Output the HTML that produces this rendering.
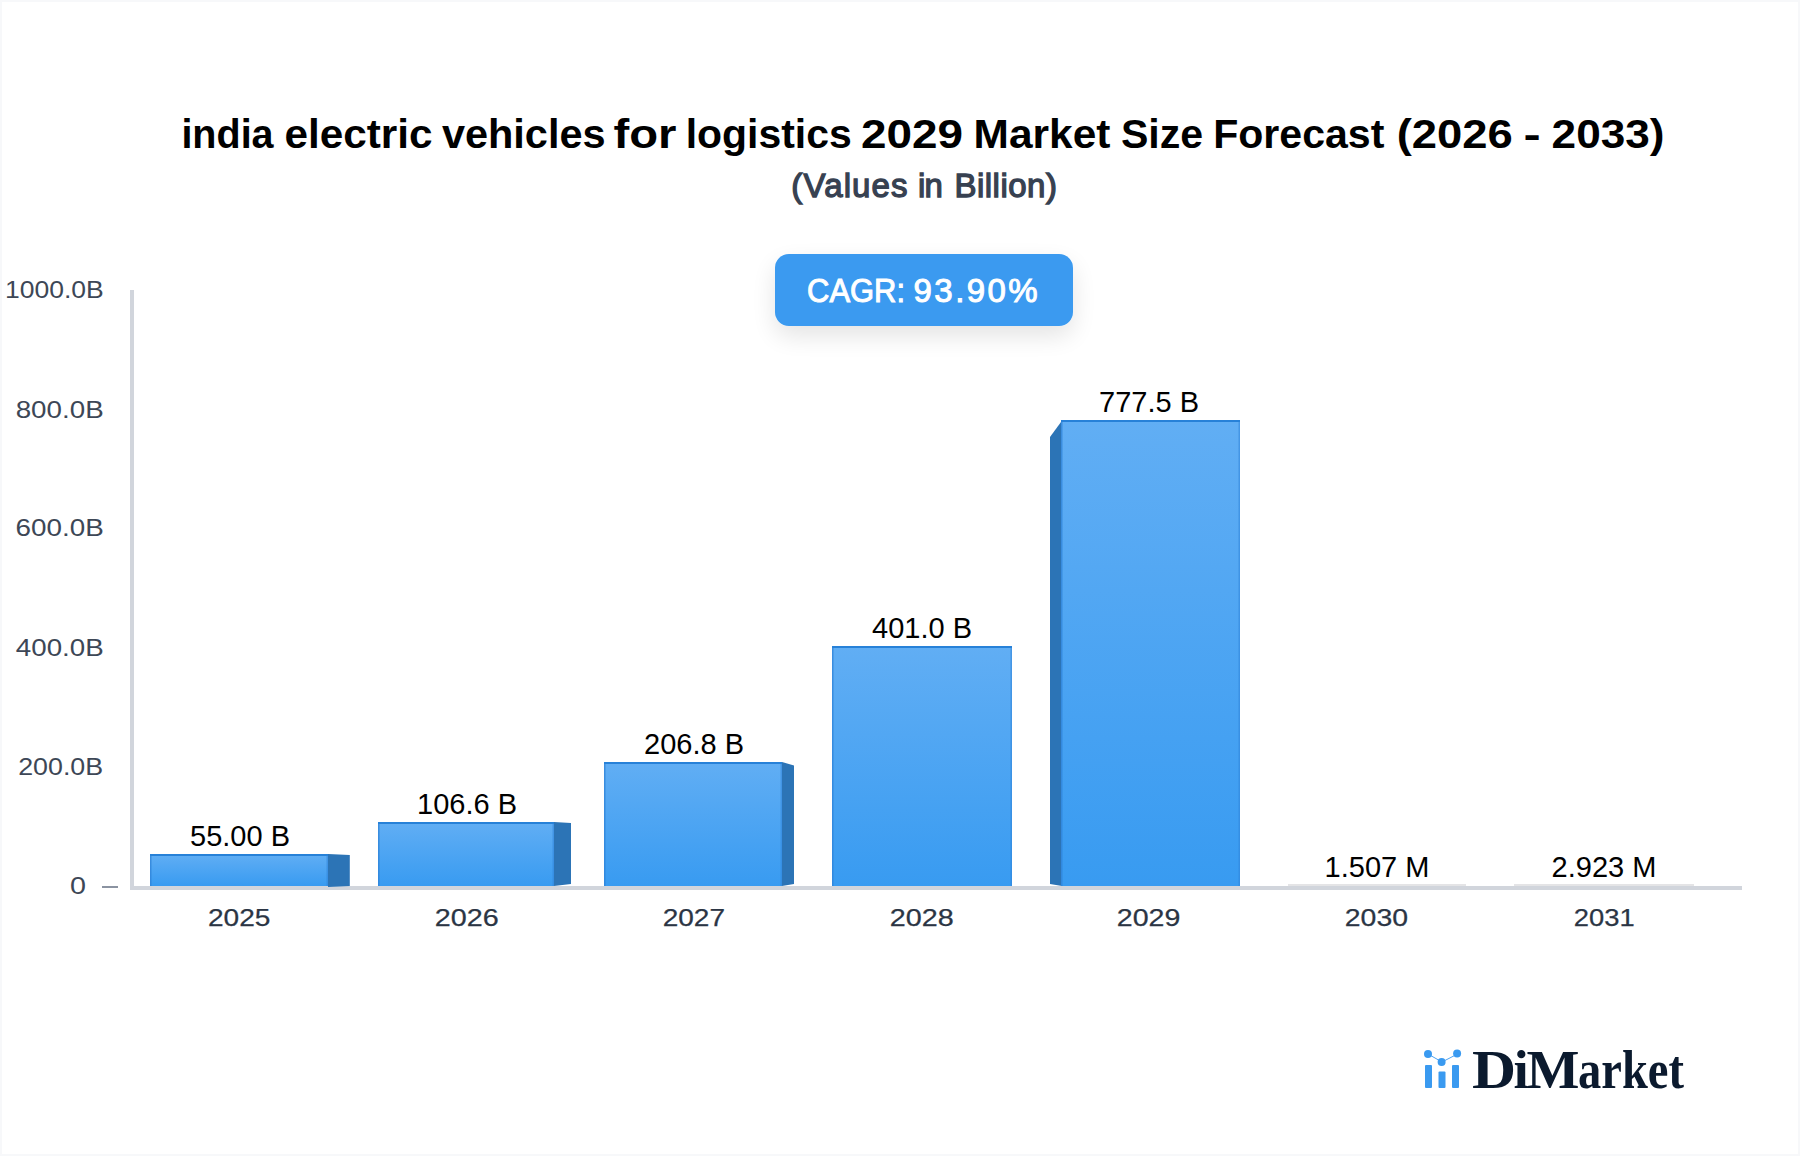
<!DOCTYPE html>
<html>
<head>
<meta charset="utf-8">
<style>
html,body{margin:0;padding:0;width:1800px;height:1156px;overflow:hidden;background:#f7f8fa;}
.card{position:absolute;left:2px;top:2px;width:1795.5px;height:1152px;background:#ffffff;}
svg{position:absolute;left:0;top:0;}
text{font-family:"Liberation Sans",sans-serif;}
</style>
</head>
<body>
<div class="card"></div>
<svg width="1800" height="1156" viewBox="0 0 1800 1156">
<defs>
  <linearGradient id="gf" x1="0" y1="0" x2="0" y2="1">
    <stop offset="0" stop-color="#61aef4"/>
    <stop offset="1" stop-color="#389bf1"/>
  </linearGradient>
  <filter id="sh" x="-30%" y="-50%" width="160%" height="220%">
    <feGaussianBlur in="SourceAlpha" stdDeviation="12"/>
    <feOffset dx="0" dy="10" result="b"/>
    <feComponentTransfer><feFuncA type="linear" slope="0.11"/></feComponentTransfer>
    <feMerge><feMergeNode/><feMergeNode in="SourceGraphic"/></feMerge>
  </filter>
</defs>

<!-- Title -->
<text x="181.4" y="148" font-size="40" font-weight="bold" fill="#000" textLength="92.2" lengthAdjust="spacingAndGlyphs" >india</text>
<text x="284.4" y="148" font-size="40" font-weight="bold" fill="#000" textLength="148.2" lengthAdjust="spacingAndGlyphs" >electric</text>
<text x="441.9" y="148" font-size="40" font-weight="bold" fill="#000" textLength="163.7" lengthAdjust="spacingAndGlyphs" >vehicles</text>
<text x="613.4" y="148" font-size="40" font-weight="bold" fill="#000" textLength="63.0" lengthAdjust="spacingAndGlyphs" >for</text>
<text x="685.7" y="148" font-size="40" font-weight="bold" fill="#000" textLength="166.0" lengthAdjust="spacingAndGlyphs" >logistics</text>
<text x="860.9" y="148" font-size="40" font-weight="bold" fill="#000" textLength="102.0" lengthAdjust="spacingAndGlyphs" >2029</text>
<text x="973.6" y="148" font-size="40" font-weight="bold" fill="#000" textLength="136.8" lengthAdjust="spacingAndGlyphs" >Market</text>
<text x="1120.9" y="148" font-size="40" font-weight="bold" fill="#000" textLength="82.2" lengthAdjust="spacingAndGlyphs" >Size</text>
<text x="1213.2" y="148" font-size="40" font-weight="bold" fill="#000" textLength="171.2" lengthAdjust="spacingAndGlyphs" >Forecast</text>
<text x="1396.7" y="148" font-size="40" font-weight="bold" fill="#000" textLength="116.1" lengthAdjust="spacingAndGlyphs" >(2026</text>
<text x="1523.6" y="148" font-size="40" font-weight="bold" fill="#000" textLength="17.2" lengthAdjust="spacingAndGlyphs" >-</text>
<text x="1551.6" y="148" font-size="40" font-weight="bold" fill="#000" textLength="112.9" lengthAdjust="spacingAndGlyphs" >2033)</text>
<text x="791.3" y="197.2" font-size="33" font-weight="normal" fill="#374151" textLength="116.3" lengthAdjust="spacing" stroke="#374151" stroke-width="1.3">(Values</text>
<text x="918.0" y="197.2" font-size="33" font-weight="normal" fill="#374151" textLength="24.9" lengthAdjust="spacing" stroke="#374151" stroke-width="1.3">in</text>
<text x="954.5" y="197.2" font-size="33" font-weight="normal" fill="#374151" textLength="102.4" lengthAdjust="spacing" stroke="#374151" stroke-width="1.3">Billion)</text>

<!-- Axes -->
<rect x="130" y="290" width="4" height="600" fill="#d1d5dc"/>
<rect x="130" y="886" width="1612" height="4" fill="#d1d5dc"/>
<rect x="102" y="886" width="16" height="2" fill="#8b93a1"/>

<!-- Y labels -->
<g font-size="24" fill="#3d4756">
<text x="4.9" y="297.5" textLength="98.8" lengthAdjust="spacingAndGlyphs">1000.0B</text>
<text x="15.7" y="417.5" textLength="88.0" lengthAdjust="spacingAndGlyphs">800.0B</text>
<text x="15.5" y="535.8" textLength="88.2" lengthAdjust="spacingAndGlyphs">600.0B</text>
<text x="15.8" y="655.5" textLength="87.9" lengthAdjust="spacingAndGlyphs">400.0B</text>
<text x="18.2" y="774.5" textLength="85.0" lengthAdjust="spacingAndGlyphs">200.0B</text>
<text x="70" y="893.5" textLength="16" lengthAdjust="spacingAndGlyphs">0</text>
</g>

<!-- Bars -->
<rect x="150" y="854" width="178" height="32" fill="url(#gf)"/>
<rect x="150" y="854" width="1.5" height="32" fill="#2f83d8" fill-opacity="0.75"/>
<rect x="326.5" y="854" width="1.5" height="32" fill="#2f83d8" fill-opacity="0.55"/>
<polygon points="328,854 349.8,855 349.8,886 328,887" fill="#2c74b6"/>
<rect x="150" y="854" width="178" height="2" fill="#2781d8"/>
<rect x="378" y="822" width="176" height="64" fill="url(#gf)"/>
<rect x="378" y="822" width="1.5" height="64" fill="#2f83d8" fill-opacity="0.75"/>
<rect x="552.5" y="822" width="1.5" height="64" fill="#2f83d8" fill-opacity="0.55"/>
<polygon points="554,822 571,823 571,884 554,886" fill="#2c74b6"/>
<rect x="378" y="822" width="176" height="2" fill="#2781d8"/>
<rect x="604" y="762" width="178" height="124" fill="url(#gf)"/>
<rect x="604" y="762" width="1.5" height="124" fill="#2f83d8" fill-opacity="0.75"/>
<rect x="780.5" y="762" width="1.5" height="124" fill="#2f83d8" fill-opacity="0.55"/>
<polygon points="782,762 794,765.4 794,884 782,886" fill="#2c74b6"/>
<rect x="604" y="762" width="178" height="2" fill="#2781d8"/>
<rect x="832" y="646" width="180" height="240" fill="url(#gf)"/>
<rect x="832" y="646" width="1.5" height="240" fill="#2f83d8" fill-opacity="0.75"/>
<rect x="1010.5" y="646" width="1.5" height="240" fill="#2f83d8" fill-opacity="0.55"/>
<rect x="832" y="646" width="180" height="2" fill="#2781d8"/>
<polygon points="1061,422 1050,437 1050,884 1062,886" fill="#2c74b6"/>
<rect x="1061" y="420" width="179" height="466" fill="url(#gf)"/>
<rect x="1061" y="420" width="1.5" height="466" fill="#2f83d8" fill-opacity="0.75"/>
<rect x="1238.5" y="420" width="1.5" height="466" fill="#2f83d8" fill-opacity="0.55"/>
<rect x="1061" y="420" width="179" height="2" fill="#2781d8"/>
<rect x="1288" y="884" width="178" height="2" fill="#e4e4e6"/>
<rect x="1514" y="884" width="180" height="2" fill="#e4e4e6"/>
<!-- Value labels -->
<g font-size="29" fill="#000" text-anchor="middle">
  <text x="240" y="846">55.00 B</text>
  <text x="467" y="814">106.6 B</text>
  <text x="694" y="754">206.8 B</text>
  <text x="922" y="638">401.0 B</text>
  <text x="1149" y="412">777.5 B</text>
  <text x="1377" y="877">1.507 M</text>
  <text x="1604" y="877">2.923 M</text>
</g>

<!-- X labels -->
<g font-size="24" fill="#2b3544" stroke="#2b3544" stroke-width="0.25">
<text x="208.0" y="925.5" textLength="62.4" lengthAdjust="spacingAndGlyphs">2025</text>
<text x="434.8" y="925.5" textLength="63.9" lengthAdjust="spacingAndGlyphs">2026</text>
<text x="662.7" y="925.5" textLength="62.3" lengthAdjust="spacingAndGlyphs">2027</text>
<text x="889.8" y="925.5" textLength="63.9" lengthAdjust="spacingAndGlyphs">2028</text>
<text x="1116.8" y="925.5" textLength="63.5" lengthAdjust="spacingAndGlyphs">2029</text>
<text x="1344.8" y="925.5" textLength="63.2" lengthAdjust="spacingAndGlyphs">2030</text>
<text x="1573.8" y="925.5" textLength="60.8" lengthAdjust="spacingAndGlyphs">2031</text>
</g>

<!-- CAGR badge -->
<g filter="url(#sh)">
  <rect x="775" y="254" width="298" height="72" rx="14" ry="14" fill="#3a9af0"/>
</g>
<text x="807.1" y="302" font-size="33" font-weight="normal" fill="#ffffff" textLength="97.9" lengthAdjust="spacingAndGlyphs" stroke="#ffffff" stroke-width="1.0">CAGR:</text>
<text x="913.6" y="302" font-size="33" font-weight="normal" fill="#ffffff" textLength="124.0" lengthAdjust="spacing" stroke="#ffffff" stroke-width="1.0">93.90%</text>

<!-- Logo -->
<g>
  <line x1="1428" y1="1054" x2="1442" y2="1062" stroke="#4da3f2" stroke-width="1"/>
  <line x1="1442" y1="1062" x2="1457.5" y2="1054" stroke="#4da3f2" stroke-width="1"/>
  <circle cx="1428" cy="1054" r="4" fill="#3a9af0"/>
  <circle cx="1441.6" cy="1062" r="4" fill="#3a9af0"/>
  <circle cx="1457.1" cy="1053.6" r="4" fill="#3a9af0"/>
  <rect x="1425" y="1065" width="7" height="23" rx="1" fill="#3a9af0"/>
  <rect x="1438.5" y="1071.5" width="7" height="16.5" rx="1" fill="#3a9af0"/>
  <rect x="1452" y="1065" width="7" height="23" rx="1" fill="#3a9af0"/>
  <text x="0" y="0" transform="translate(1472,1088) scale(1.11,1)" font-size="55" font-weight="bold" fill="#0b1a2e" style="font-family:'Liberation Serif',serif">D</text>
<text x="0" y="0" transform="translate(1513.5,1088) scale(1.0,1)" font-size="55" font-weight="bold" fill="#0b1a2e" style="font-family:'Liberation Serif',serif">i</text>
<text x="0" y="0" transform="translate(1526.5,1088) scale(1.02,1)" font-size="55" font-weight="bold" fill="#0b1a2e" style="font-family:'Liberation Serif',serif">M</text>
<text x="0" y="0" transform="translate(1578,1088) scale(0.846,1)" font-size="55" font-weight="bold" fill="#0b1a2e" style="font-family:'Liberation Serif',serif">arket</text>
</g>
</svg>
</body>
</html>
